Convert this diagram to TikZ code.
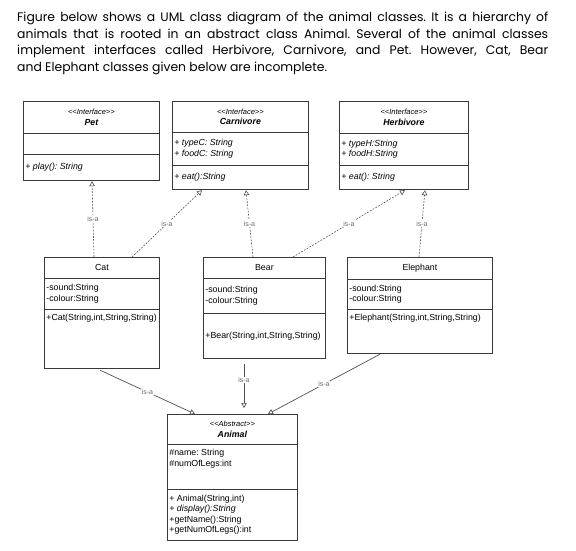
\documentclass[tikz,border=0pt]{standalone}
\usepackage{fontspec}
\setmainfont{Liberation Sans}
\newfontfamily\introfont{Poppins}
\usetikzlibrary{positioning,calc,shapes.multipart,arrows.meta}
\definecolor{boxgray}{HTML}{3A3A3A}
\definecolor{linkgray}{HTML}{505050}
\definecolor{labelgray}{HTML}{6A6A6A}
% one compartment of a class box: [position]{width}{height}{text}
\newcommand\Compart[4][c]{%
  \parbox[c][#3pt][#1]{#2pt}{\raggedright\leftskip=2pt #4}%
}
% stereotype and class name
\newcommand\Stereo[2]{%
  \centering{\fontsize{7.5}{9}\selectfont\itshape <\kern0pt<#1>\kern0pt>}\\
  {\bfseries\itshape #2}%
}
\newcommand\TopGap{\vspace*{5pt}}
\tikzset{%
  >={Triangle[open,length=5pt,width=5.5pt]},
  umlclass/.style={draw=boxgray,line width=0.8pt,rectangle split,
    rectangle split parts=3,inner sep=0pt,anchor=north west,
    font=\fontsize{8.8}{10.5}\selectfont},
  isa/.style={font=\fontsize{7}{7}\selectfont,text=labelgray,fill=white,
    inner sep=0.6pt},
  realize/.style={->,draw=linkgray,line width=0.6pt,
    dash pattern=on 1.8pt off 1.4pt},
  extend/.style={->,draw=linkgray,line width=0.7pt}
}
\begin{document}
\frenchspacing
\begin{tikzpicture}[x=1pt,y=-1pt]
\useasboundingbox (0,0) rectangle (576,551);

%% question text
\node[anchor=north west,inner sep=0pt,text width=531pt,align=justify,
  font=\introfont\fontsize{12.4}{16.5}\selectfont] (intro) at (17,12)
  {Figure below shows a UML class diagram of the animal classes. It is a hierarchy of\linebreak
   animals that is rooted in an abstract class Animal. Several of the animal classes\linebreak
   implement interfaces called Herbivore, Carnivore, and Pet. However, Cat, Bear\linebreak
   and Elephant classes given below are incomplete.};

%% interfaces
\node[umlclass] (pet) at (23,101)
  {\Compart{136}{31}{\Stereo{Interface}{Pet}}%
   \nodepart{two}\Compart{136}{20}{}%
   \nodepart{three}\Compart{136}{26}{\itshape + play(): String}};
\node[umlclass] (carnivore) at (172,101)
  {\Compart{136}{30}{\Stereo{Interface}{Carnivore}}%
   \nodepart{two}\Compart{136}{32}{\itshape + typeC: String\\+ foodC: String}%
   \nodepart{three}\Compart{136}{24}{\itshape + eat():String}};
\node[umlclass] (herbivore) at (339,101)
  {\Compart{129}{31}{\Stereo{Interface}{Herbivore}}%
   \nodepart{two}\Compart{129}{31}{\itshape + typeH:String\\+ foodH:String}%
   \nodepart{three}\Compart{129}{24}{\itshape + eat(): String}};

%% concrete classes
\node[umlclass] (cat) at (44,257)
  {\Compart{115}{20}{\centering Cat}%
   \nodepart{two}\Compart{115}{30}{-sound:String\\-colour:String}%
   \nodepart{three}\Compart[t]{115}{59}{\TopGap+Cat(String,int,String,String)}};
\node[umlclass] (bear) at (203,257)
  {\Compart{122}{20}{\centering Bear}%
   \nodepart{two}\Compart{122}{34}{-sound:String\\-colour:String}%
   \nodepart{three}\Compart{122}{45}{+Bear(String,int,String,String)}};
\node[umlclass] (elephant) at (347,257)
  {\Compart{145}{21}{\centering Elephant}%
   \nodepart{two}\Compart{145}{29}{-sound:String\\-colour:String}%
   \nodepart{three}\Compart[t]{145}{44}{\TopGap+Elephant(String,int,String,String)}};

%% abstract root
\node[umlclass] (animal) at (167,414)
  {\Compart{130}{29}{\Stereo{Abstract}{Animal}}%
   \nodepart{two}\Compart[t]{130}{44}{\TopGap\#name: String\\\#numOfLegs:int}%
   \nodepart{three}\Compart{130}{51}{+ Animal(String,int)\\\textit{+ display():String}\\+getName():String\\+getNumOfLegs():int}};

%% implemented interfaces
\draw[realize] ($(cat.north west)+(50,0)$) -- node[isa] {is-a} ($(pet.south west)+(69,0)$);
\draw[realize] ($(cat.north west)+(88,0)$) -- node[isa] {is-a} ($(carnivore.south west)+(30,0)$);
\draw[realize] ($(bear.north west)+(50,0)$) -- node[isa] {is-a} ($(carnivore.south west)+(74,0)$);
\draw[realize] ($(bear.north west)+(90,0)$) -- node[isa] {is-a} ($(herbivore.south west)+(66,0)$);
\draw[realize] ($(elephant.north west)+(72,0)$) -- node[isa] {is-a} ($(herbivore.south west)+(86,0)$);

%% inheritance
\draw[extend] ($(cat.south west)+(56,1)$) -- node[isa] {is-a} ($(animal.north west)+(28,0)$);
\draw[extend,shorten <=5pt,shorten >=6pt] ($(bear.south west)+(41,0)$) -- node[isa,pos=0.38] {is-a} ($(animal.north west)+(77,0)$);
\draw[extend] ($(elephant.south west)+(33,0)$) -- node[isa] {is-a} ($(animal.north west)+(101,0)$);

\end{tikzpicture}
\end{document}
